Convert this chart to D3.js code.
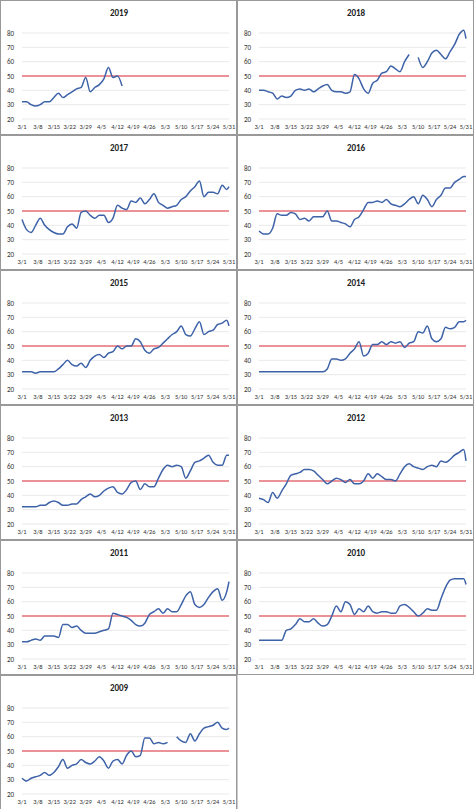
<!DOCTYPE html>
<html><head><meta charset="utf-8">
<script src="https://cdn.jsdelivr.net/npm/d3@7"></script>
<style>body{margin:0;background:#fff}svg{display:block;font-family:Calibri,"Liberation Sans",Arial,sans-serif}</style>
</head><body><svg id="c" width="474" height="809"></svg>
<script>
const tickLabels=["3/1","3/8","3/15","3/22","3/29","4/5","4/12","4/19","4/26","5/3","5/10","5/17","5/24","5/31"];
const tickDays=[0,7,14,21,28,35,42,49,56,63,70,77,84,91];
const yTicks=[20,30,40,50,60,70,80];
const days=[0,2,4,6,8,10,12,14,16,18,20,22,24,26,28,30,32,34,36,38,40,42,44,46,48,50,52,54,56,58,60,62,64,66,68,70,72,74,76,78,80,82,84,86,88,90,91];
const years=["2019","2018","2017","2016","2015","2014","2013","2012","2011","2010","2009"];
const N=null;
const s2019=[32,32,30,29,30,32,32,35,38,35,37,39,41,42,49,39,42,44,48,56,49,50,43,N,N,N,N,N,N,N,N,N,N,N,N,N,N,N,N,N,N,N,N,N,N,N,N];
const s2018=[40,40,39,38,34,36,35,36,40,41,40,41,39,41,43,44,40,39,39,38,39,51,48,41,38,45,47,52,53,57,55,53,60,65,N,63,56,60,66,68,65,62,67,72,79,82,76];
const s2017=[44,37,35,40,45,40,37,35,34,34,39,41,38,49,50,47,45,47,47,42,45,54,52,51,57,56,59,55,58,62,56,54,52,53,54,58,60,64,67,71,60,63,63,62,68,65,67];
const s2016=[36,34,34,38,48,47,47,49,48,44,45,43,46,46,46,50,43,43,42,41,39,44,46,51,56,56,57,56,58,55,54,53,55,58,60,55,61,58,53,58,61,66,66,70,72,74,74];
const s2015=[32,32,32,31,32,32,32,32,34,37,40,37,36,38,35,40,43,44,42,45,46,50,48,50,50,55,53,47,45,48,49,52,55,58,60,64,58,57,62,67,58,60,61,65,66,68,64];
const s2014=[32,32,32,32,32,32,32,32,32,32,32,32,32,32,32,34,41,41,40,41,45,48,53,43,45,51,51,53,51,53,52,53,49,52,53,60,59,64,55,53,55,63,62,63,67,67,68];
const s2013=[32,32,32,32,33,33,35,36,35,33,33,34,34,37,39,41,39,40,43,45,46,42,41,44,49,50,44,48,46,46,52,58,61,60,61,60,52,57,63,64,66,68,63,61,61,68,68];
const s2012=[38,37,35,42,38,43,48,54,55,56,58,58,57,54,51,48,50,52,51,49,51,48,48,50,55,52,55,53,51,51,50,55,60,62,60,59,58,60,61,60,64,63,65,68,70,72,64];
const s2011=[32,32,33,34,33,36,36,36,35,44,44,42,43,40,38,38,38,39,40,41,52,51,50,49,47,44,43,45,51,53,55,52,55,53,53,58,64,67,58,56,58,63,67,69,61,67,74];
const s2010=[33,33,33,33,33,33,40,41,44,48,46,46,48,45,43,44,50,57,53,60,58,51,55,53,57,53,52,53,53,52,52,57,58,56,53,50,52,55,54,54,62,70,75,76,76,76,72];
const s2009=[31,29,31,32,33,35,33,35,39,44,38,40,41,44,42,41,43,46,43,38,43,44,41,47,50,46,47,59,59,55,56,55,56,N,60,57,56,62,57,62,66,67,68,70,66,65,66];
const series=[s2019,s2018,s2017,s2016,s2015,s2014,s2013,s2012,s2011,s2010,s2009];

const svg=d3.select("#c");
const PW=237, PH=135;
const x=d3.scaleLinear().domain([0,91]).range([22,229]);
const y=d3.scaleLinear().domain([20,80]).range([119,33]);
years.forEach((yr,i)=>{
  const col=i%2,row=Math.floor(i/2);
  const g=svg.append("g").attr("transform",`translate(${col*PW},${row*PH})`);
  g.append("rect").attr("x",0.5).attr("y",0.5).attr("width",PW-1).attr("height",PH-1).attr("fill","#fff").attr("stroke","#999");
  g.append("text").attr("x",119).attr("y",16).attr("text-anchor","middle").attr("font-size",9).attr("font-weight","bold").attr("fill","#222").text(yr);
  g.selectAll(".gl").data(yTicks).join("line").attr("x1",x(0)).attr("x2",x(91)).attr("y1",d=>y(d)).attr("y2",d=>y(d)).attr("stroke","#e3e3e3").attr("stroke-width",0.8);
  g.selectAll(".yl").data(yTicks).join("text").attr("x",14).attr("y",d=>y(d)+2.5).attr("text-anchor","end").attr("font-size",7).attr("fill","#333").text(d=>d);
  g.selectAll(".xl").data(tickDays).join("text").attr("x",d=>x(d)).attr("y",129).attr("text-anchor","middle").attr("font-size",6.5).attr("fill","#333").text((d,j)=>tickLabels[j]);
  g.append("line").attr("x1",x(0)).attr("x2",x(91)).attr("y1",y(50)).attr("y2",y(50)).attr("stroke","#e0303a").attr("stroke-width",1.2);
  const line=d3.line().defined(v=>v!=null).x((v,j)=>x(days[j])).y(v=>y(v)).curve(d3.curveMonotoneX);
  g.append("path").datum(series[i]).attr("d",line).attr("fill","none").attr("stroke","#3d62a8").attr("stroke-width",1.5);
});
svg.append("line").attr("x1",237).attr("x2",237).attr("y1",675).attr("y2",809).attr("stroke","#999");
</script></body></html>
